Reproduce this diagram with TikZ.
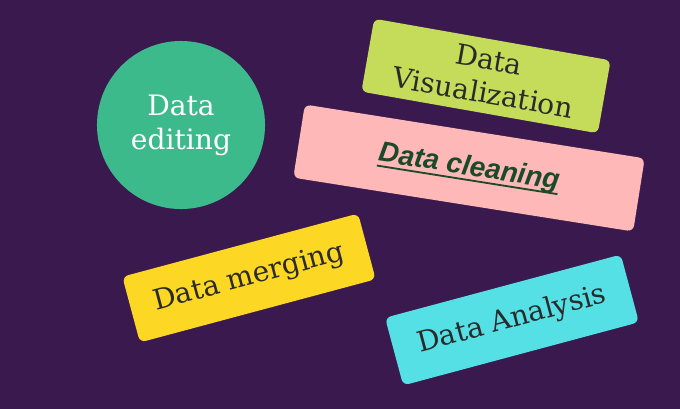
\documentclass[tikz,border=0pt]{standalone}
\usepackage{fontspec}
\setmainfont{DejaVu Serif}
\setsansfont{Liberation Sans}
\usepackage{tikz}
\usetikzlibrary{calc}
\definecolor{bgpurple}{HTML}{3A1A4E}
\definecolor{editgreen}{HTML}{3DBA8C}
\definecolor{vislime}{HTML}{C5DC5A}
\definecolor{cleanpink}{HTML}{FFB8B8}
\definecolor{mergeyellow}{HTML}{FCD723}
\definecolor{anacyan}{HTML}{55E0E5}
\definecolor{darktext}{HTML}{2A2A2A}
\definecolor{cleantext}{HTML}{1A4A2A}
\newcommand{\thickul}[1]{\setbox0\hbox{#1}\rlap{\rule[-4pt]{\wd0}{1.3pt}}\box0}

\begin{document}
\begin{tikzpicture}[x=0.025cm, y=-0.025cm, every node/.style={rounded corners=1.5mm, align=center, text=darktext, font=\fontsize{20}{24}\selectfont}]
\fill[bgpurple] (0,0) rectangle (680,409);
\useasboundingbox (0,0) rectangle (680,409);

\node[circle, fill=editgreen, minimum size=4.2cm, text=white, rounded corners=0pt] (edit) at (181,125) {Data\\editing};
\node[fill=vislime, minimum width=6cm, minimum height=1.85cm, rotate=-10] (vis) at (486,76) {Data\\Visualization};
\node[fill=cleanpink, minimum width=8.6cm, minimum height=1.85cm, rotate=-9, text=cleantext, font=\fontsize{20}{24}\selectfont\sffamily\bfseries\itshape] (clean) at (469,168) {\thickul{Data cleaning}};
\node[fill=mergeyellow, minimum width=6.1cm, minimum height=1.7cm, rotate=15] (merge) at (249,278) {Data merging};
\node[fill=anacyan, minimum width=6.1cm, minimum height=1.75cm, rotate=15] (ana) at (512,320) {Data Analysis};
\end{tikzpicture}
\end{document}
